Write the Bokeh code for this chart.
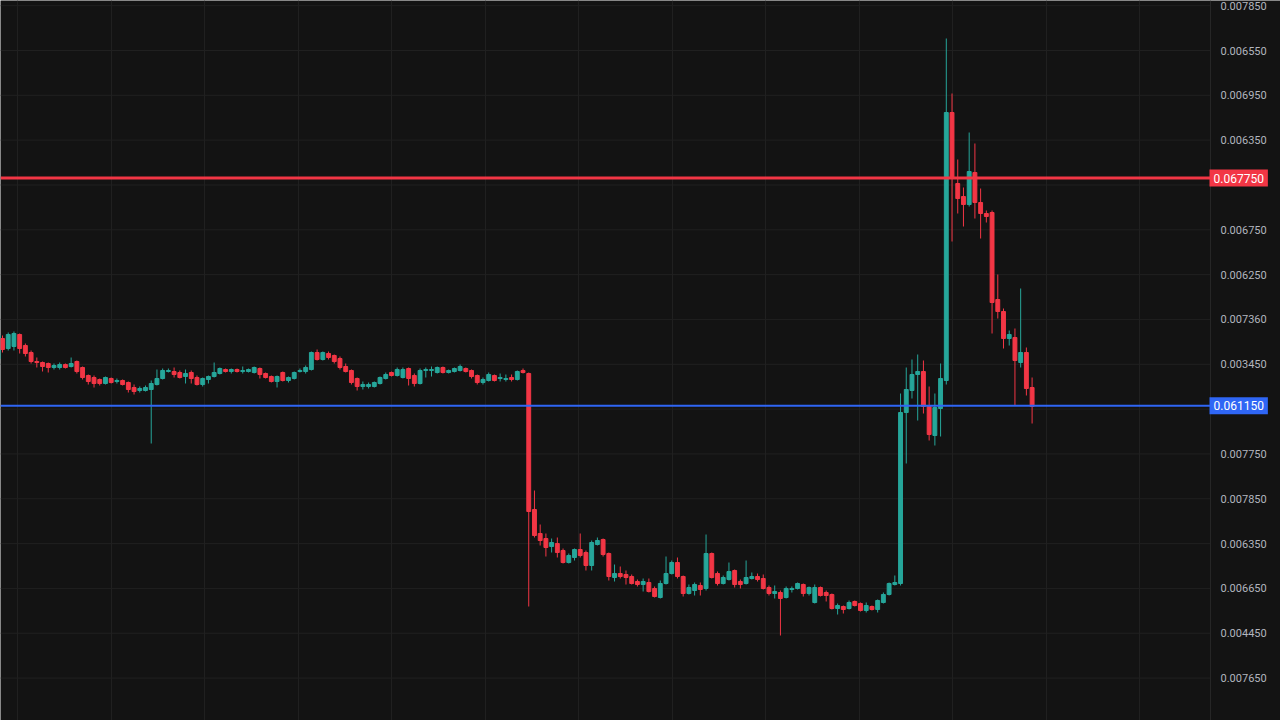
from bokeh.plotting import figure
from bokeh.models import Range1d, FixedTicker, Span, Label, ColumnDataSource, Grid
from bokeh.core.properties import value
from bokeh.embed import file_html
from bokeh.resources import INLINE

# ---- data (prices) ----
open_ = [
0.062518, 0.063098, 0.062808, 0.062866, 0.063214, 0.062895, 0.062692, 0.062431, 0.062402, 0.062373,
0.062257, 0.062257, 0.062344, 0.062286, 0.062431, 0.062257, 0.062025, 0.061967, 0.061909, 0.061793,
0.061938, 0.061851, 0.061880, 0.061822, 0.061677, 0.061590, 0.061590, 0.061619, 0.061764, 0.061938,
0.062141, 0.062141, 0.062112, 0.061996, 0.062112, 0.061967, 0.061764, 0.061909, 0.061996, 0.062083,
0.062199, 0.062141, 0.062199, 0.062141, 0.062141, 0.062112, 0.062228, 0.062083, 0.061996, 0.061851,
0.062112, 0.061880, 0.061938, 0.062141, 0.062141, 0.062199, 0.062692, 0.062489, 0.062663, 0.062605,
0.062518, 0.062286, 0.062170, 0.061938, 0.061706, 0.061706, 0.061706, 0.061793, 0.061938, 0.062112,
0.062025, 0.061967, 0.062228, 0.062025, 0.061793, 0.062170, 0.062170, 0.062112, 0.062257, 0.062112,
0.062141, 0.062170, 0.062228, 0.062170, 0.062025, 0.061822, 0.061880, 0.062025, 0.061938, 0.061909,
0.061967, 0.061909, 0.062170, 0.062083, 0.058139, 0.057443, 0.057298, 0.057066, 0.057153, 0.056950,
0.056602, 0.056747, 0.056979, 0.056892, 0.056515, 0.057124, 0.057269, 0.056863, 0.056167, 0.056283,
0.056254, 0.056196, 0.056051, 0.055964, 0.056022, 0.055848, 0.055587, 0.055993, 0.056283, 0.056602,
0.056196, 0.055703, 0.055790, 0.055935, 0.055848, 0.056863, 0.056283, 0.055993, 0.056109, 0.056370,
0.056051, 0.055993, 0.056138, 0.056196, 0.056138, 0.055877, 0.055703, 0.055732, 0.055587, 0.055819,
0.055848, 0.055964, 0.055703, 0.055442, 0.055877, 0.055732, 0.055674, 0.055268, 0.055326, 0.055268,
0.055471, 0.055413, 0.055210, 0.055326, 0.055239, 0.055442, 0.055674, 0.055964, 0.055993, 0.060952,
0.061590, 0.062054, 0.062141, 0.061126, 0.060285, 0.061068, 0.061880, 0.069652, 0.067593, 0.067216,
0.066984, 0.067912, 0.067042, 0.066723, 0.066752, 0.064229, 0.063881, 0.063098, 0.063127, 0.062402,
0.062692, 0.061677,
]
high = [
0.063243, 0.063185, 0.063272, 0.063301, 0.063243, 0.062953, 0.062750, 0.062547, 0.062431, 0.062402,
0.062373, 0.062402, 0.062373, 0.062547, 0.062460, 0.062286, 0.062054, 0.062025, 0.061938, 0.061996,
0.061967, 0.061938, 0.061909, 0.061851, 0.061764, 0.061706, 0.061735, 0.061880, 0.062199, 0.062228,
0.062228, 0.062257, 0.062170, 0.062199, 0.062170, 0.062025, 0.061967, 0.062025, 0.062402, 0.062257,
0.062228, 0.062228, 0.062228, 0.062286, 0.062228, 0.062286, 0.062257, 0.062112, 0.062025, 0.062025,
0.062141, 0.061996, 0.062141, 0.062228, 0.062315, 0.062721, 0.062779, 0.062721, 0.062721, 0.062634,
0.062576, 0.062373, 0.062199, 0.061967, 0.061851, 0.061822, 0.061851, 0.061996, 0.062112, 0.062141,
0.062257, 0.062257, 0.062257, 0.062083, 0.062228, 0.062257, 0.062286, 0.062286, 0.062286, 0.062199,
0.062257, 0.062344, 0.062257, 0.062199, 0.062054, 0.061967, 0.062112, 0.062054, 0.062083, 0.062054,
0.062054, 0.062170, 0.062228, 0.062112, 0.058690, 0.057704, 0.057443, 0.057298, 0.057327, 0.057008,
0.056863, 0.057008, 0.057443, 0.056950, 0.057240, 0.057327, 0.057298, 0.056892, 0.056544, 0.056486,
0.056370, 0.056254, 0.056109, 0.056138, 0.056138, 0.055906, 0.056080, 0.056776, 0.056660, 0.056747,
0.056225, 0.055964, 0.056022, 0.056022, 0.057414, 0.056892, 0.056341, 0.056225, 0.056602, 0.056399,
0.056109, 0.056660, 0.056312, 0.056283, 0.056254, 0.055935, 0.055935, 0.055790, 0.055906, 0.055906,
0.056022, 0.055993, 0.055906, 0.055964, 0.055906, 0.055790, 0.055703, 0.055413, 0.055355, 0.055500,
0.055500, 0.055442, 0.055442, 0.055355, 0.055529, 0.055732, 0.056022, 0.056225, 0.061503, 0.062257,
0.062489, 0.062634, 0.062460, 0.061706, 0.061503, 0.062373, 0.071798, 0.070203, 0.068289, 0.067477,
0.069072, 0.068753, 0.067448, 0.066810, 0.066810, 0.064954, 0.063968, 0.063330, 0.063388, 0.064548,
0.062837, 0.061967,
]
low = [
0.062460, 0.062692, 0.062750, 0.062750, 0.062663, 0.062576, 0.062373, 0.062257, 0.062141, 0.062112,
0.062199, 0.062199, 0.062228, 0.062257, 0.062083, 0.061909, 0.061764, 0.061677, 0.061735, 0.061764,
0.061793, 0.061793, 0.061735, 0.061532, 0.061474, 0.061532, 0.061561, 0.060053, 0.061735, 0.061909,
0.062112, 0.061967, 0.061938, 0.061793, 0.061793, 0.061735, 0.061706, 0.061793, 0.061967, 0.062054,
0.062112, 0.062083, 0.062112, 0.062083, 0.062112, 0.062083, 0.061938, 0.061938, 0.061822, 0.061677,
0.061851, 0.061822, 0.061909, 0.062112, 0.062083, 0.062170, 0.062460, 0.062460, 0.062489, 0.062373,
0.062199, 0.062112, 0.061764, 0.061590, 0.061619, 0.061648, 0.061677, 0.061764, 0.061909, 0.061996,
0.061996, 0.061938, 0.061735, 0.061706, 0.061764, 0.061967, 0.061996, 0.062083, 0.062083, 0.062083,
0.062112, 0.062141, 0.062112, 0.061938, 0.061764, 0.061764, 0.061851, 0.061851, 0.061851, 0.061851,
0.061851, 0.061880, 0.062083, 0.055326, 0.057327, 0.057095, 0.056776, 0.056892, 0.056747, 0.056573,
0.056573, 0.056660, 0.056747, 0.056370, 0.056370, 0.057095, 0.056776, 0.056080, 0.056051, 0.056138,
0.055964, 0.055964, 0.055906, 0.055761, 0.055732, 0.055587, 0.055558, 0.055964, 0.056254, 0.056138,
0.055616, 0.055674, 0.055645, 0.055645, 0.055790, 0.056138, 0.055935, 0.055964, 0.056080, 0.055877,
0.055848, 0.055964, 0.056109, 0.056051, 0.055819, 0.055645, 0.055558, 0.054485, 0.055558, 0.055732,
0.055819, 0.055616, 0.055645, 0.055413, 0.055616, 0.055471, 0.055239, 0.055094, 0.055123, 0.055239,
0.055326, 0.055181, 0.055152, 0.055210, 0.055152, 0.055413, 0.055645, 0.055935, 0.055935, 0.059473,
0.061358, 0.060720, 0.060923, 0.060140, 0.059995, 0.060256, 0.061764, 0.065911, 0.066723, 0.066346,
0.066926, 0.066578, 0.065998, 0.066462, 0.063243, 0.063678, 0.062808, 0.062895, 0.061155, 0.062257,
0.061445, 0.060633,
]
close = [
0.063185, 0.062779, 0.063214, 0.063243, 0.062808, 0.062663, 0.062431, 0.062402, 0.062286, 0.062257,
0.062315, 0.062344, 0.062257, 0.062373, 0.062141, 0.061967, 0.061851, 0.061793, 0.061793, 0.061967,
0.061822, 0.061880, 0.061764, 0.061619, 0.061561, 0.061648, 0.061677, 0.061793, 0.061938, 0.062170,
0.062170, 0.062054, 0.061967, 0.062083, 0.061938, 0.061764, 0.061938, 0.061996, 0.062112, 0.062228,
0.062141, 0.062199, 0.062141, 0.062170, 0.062199, 0.062257, 0.062054, 0.061967, 0.061851, 0.061996,
0.061880, 0.061967, 0.062112, 0.062170, 0.062257, 0.062692, 0.062489, 0.062692, 0.062547, 0.062431,
0.062257, 0.062141, 0.061822, 0.061706, 0.061764, 0.061764, 0.061822, 0.061967, 0.062054, 0.062025,
0.062199, 0.062199, 0.061938, 0.061793, 0.062170, 0.062199, 0.062199, 0.062257, 0.062112, 0.062170,
0.062228, 0.062286, 0.062141, 0.061996, 0.061822, 0.061909, 0.062054, 0.061880, 0.061967, 0.061938,
0.061909, 0.062141, 0.062112, 0.058081, 0.057385, 0.057240, 0.057037, 0.057182, 0.056892, 0.056602,
0.056805, 0.056979, 0.056805, 0.056515, 0.057182, 0.057240, 0.056834, 0.056196, 0.056283, 0.056196,
0.056167, 0.055993, 0.055964, 0.056051, 0.055761, 0.055616, 0.055993, 0.056283, 0.056602, 0.056196,
0.055703, 0.055877, 0.055964, 0.055819, 0.056863, 0.056167, 0.055993, 0.056167, 0.056341, 0.055964,
0.055964, 0.056167, 0.056196, 0.056109, 0.055848, 0.055703, 0.055761, 0.055558, 0.055848, 0.055848,
0.055993, 0.055703, 0.055877, 0.055877, 0.055645, 0.055645, 0.055268, 0.055355, 0.055239, 0.055442,
0.055355, 0.055210, 0.055355, 0.055239, 0.055500, 0.055674, 0.055993, 0.056022, 0.060952, 0.061619,
0.062054, 0.062141, 0.061126, 0.060314, 0.061097, 0.061938, 0.069652, 0.067767, 0.067158, 0.066984,
0.067941, 0.067042, 0.066723, 0.066636, 0.064142, 0.063881, 0.063098, 0.063214, 0.062460, 0.062692,
0.061648, 0.061126,
]

resistance = 0.06775
support = 0.06115
resistance_text = "0.067750"
support_text = "0.061150"

tick_values = [0.07275, 0.07145, 0.07015, 0.06885, 0.06755, 0.06625, 0.06495, 0.06365,
               0.06235, 0.06105, 0.05975, 0.05845, 0.05715, 0.05585, 0.05455, 0.05325]
tick_labels = ["0.007850", "0.006550", "0.006950", "0.006350", "", "0.006750", "0.006250", "0.007360",
               "0.003450", "", "0.007750", "0.007850", "0.006350", "0.006650", "0.004450", "0.007650"]

# ---- styling / layout ----
W, H = 1280, 720
SCALE_X = 1210          # left edge of the price scale, px
PX_PER_BAR = 5.72
X0 = 0.65               # bar index at left edge
BG = "#131313"
GRID = "#202020"
UP = "#26a69a"
DOWN = "#f23645"
RES_COLOR = "#f23645"
SUP_COLOR = "#2f66f5"
LABEL_COLOR = "#b2b5be"


def px_to_x(px):
    return X0 + px / PX_PER_BAR


idx = list(range(len(open_)))
colors = [UP if c >= o else DOWN for o, c in zip(open_, close)]
src = ColumnDataSource(dict(
    x=idx, high=high, low=low,
    top=[max(o, c) for o, c in zip(open_, close)],
    bottom=[min(o, c) for o, c in zip(open_, close)],
    color=colors,
))

p = figure(width=W, height=H, output_backend="svg", toolbar_location=None,
           x_range=Range1d(px_to_x(0), px_to_x(W)), y_range=Range1d(0.05202, 0.0729),
           x_axis_location=None, y_axis_location=None, min_border=0,
           background_fill_color=BG, border_fill_color=BG, outline_line_color=None)

# remove default grids
for g in p.grid:
    g.visible = False

# vertical grid (time)
p.add_layout(Grid(dimension=0, ticker=FixedTicker(ticks=[px_to_x(17 + 93.5 * k) for k in range(13)]),
                  grid_line_color=GRID))
# horizontal grid, stopping at the price scale
p.segment(x0=[px_to_x(0)] * len(tick_values), x1=[px_to_x(SCALE_X)] * len(tick_values),
          y0=tick_values, y1=tick_values, line_color=GRID, line_width=1)
# price scale separator
p.add_layout(Span(location=px_to_x(SCALE_X), dimension="height", line_color="#262626", line_width=1))

# price scale labels
p.text(x=[px_to_x(1220)] * len(tick_values), y=tick_values, text=tick_labels,
       text_font=value("Roboto"), text_font_size="11px", text_color=LABEL_COLOR,
       text_baseline="middle", text_align="left")

# candles
p.segment(x0="x", y0="high", x1="x", y1="low", color="color", line_width=1, source=src)
p.vbar(x="x", width=0.68, top="top", bottom="bottom", fill_color="color",
       line_color="color", line_width=1, source=src)

# horizontal levels
p.segment(x0=[px_to_x(0)], x1=[px_to_x(SCALE_X)], y0=[resistance], y1=[resistance],
          line_color=RES_COLOR, line_width=3)
p.segment(x0=[px_to_x(0)], x1=[px_to_x(SCALE_X)], y0=[support], y1=[support],
          line_color=SUP_COLOR, line_width=2)

for val, txt, col in [(resistance, resistance_text, RES_COLOR), (support, support_text, SUP_COLOR)]:
    p.add_layout(Label(x=1209, y=val, x_units="screen", y_units="data", text=txt,
                       text_color="#ffffff", text_font="Roboto", text_font_size="12px",
                       text_baseline="middle", text_align="left",
                       background_fill_color=col, padding=4))

open("out.html", "w").write(file_html(p, INLINE))
